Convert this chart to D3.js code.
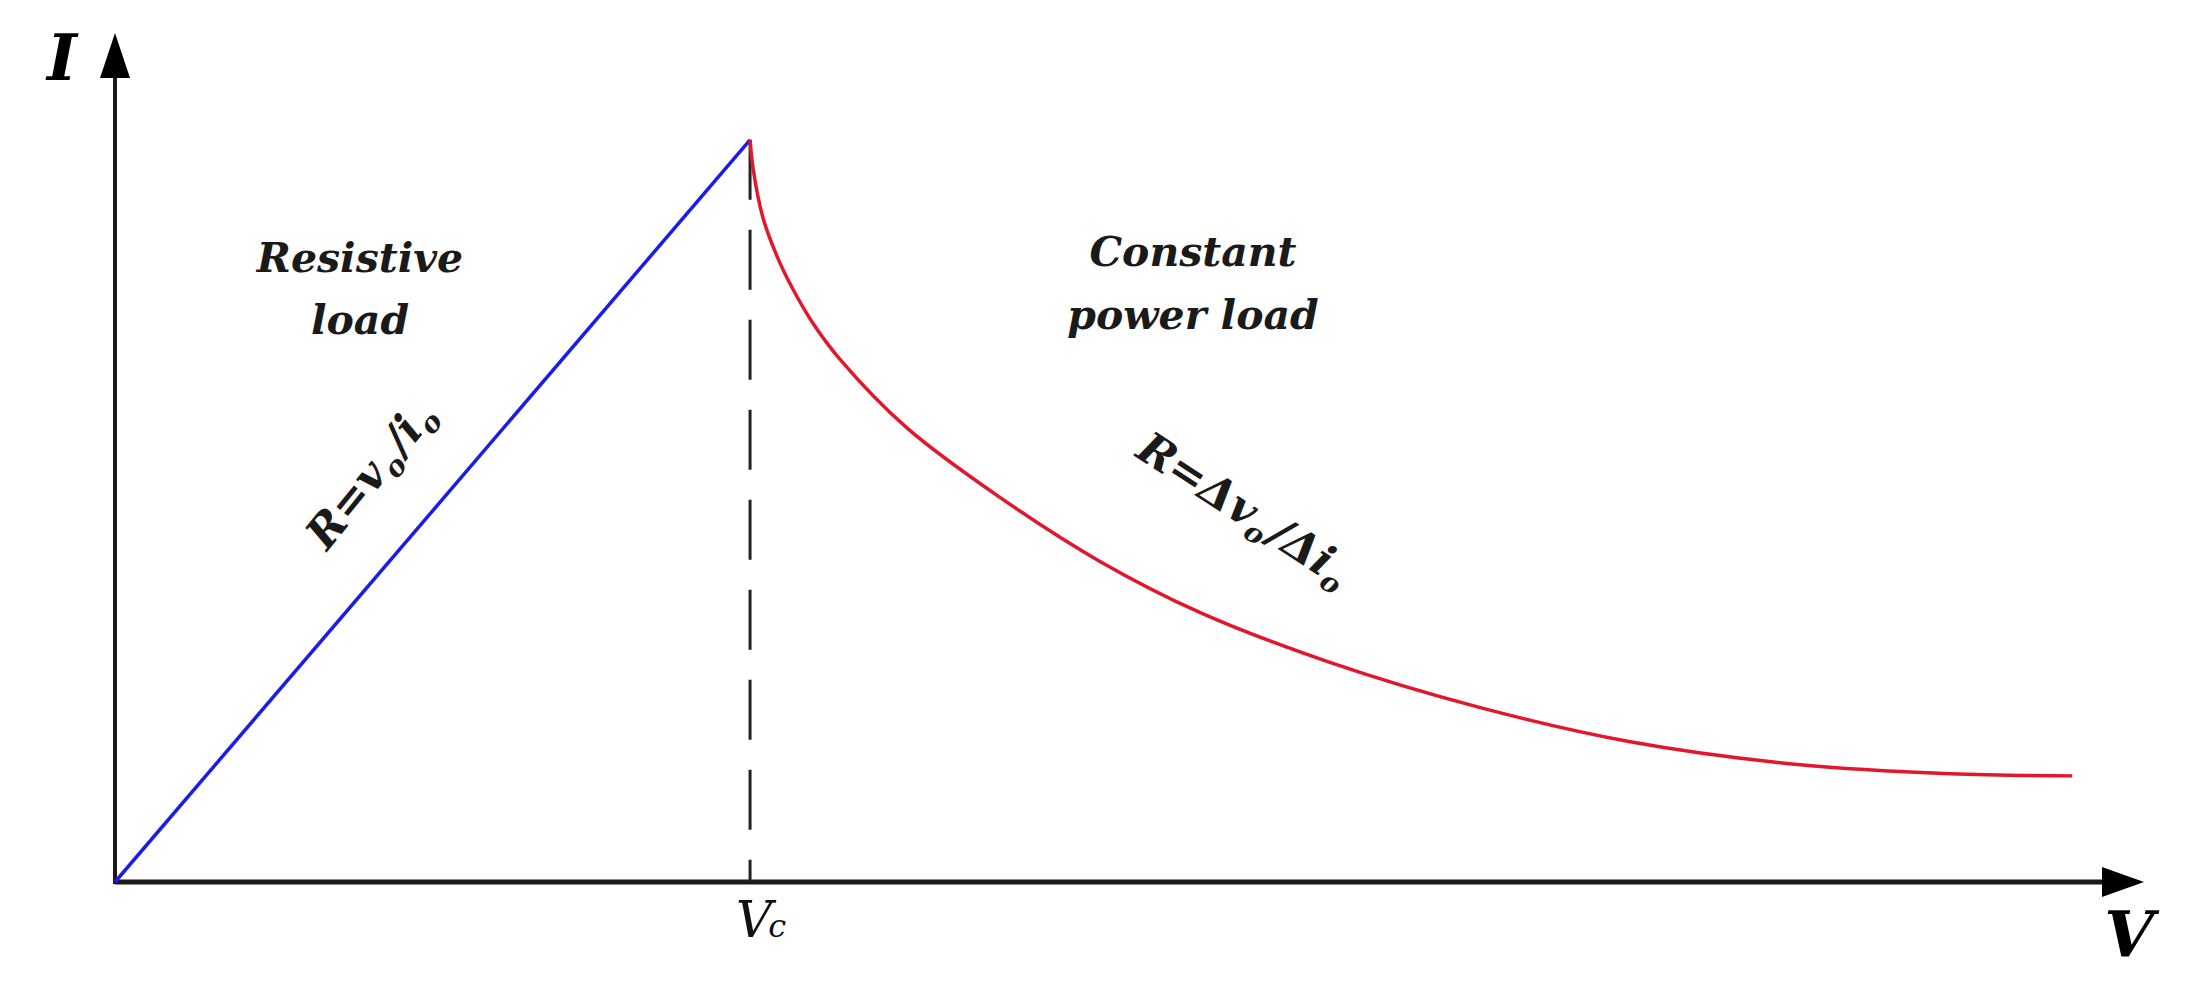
<!DOCTYPE html>
<html>
<head>
<meta charset="utf-8">
<script src="https://cdn.jsdelivr.net/npm/d3@7"></script>
<style>
  body { margin: 0; background: #fff; }
  text { font-family: "DejaVu Serif", "Liberation Serif", serif; }
</style>
</head>
<body>
<svg id="chart" width="2189" height="988"></svg>
<script>
// Values (V and I in units of the critical point)
const vcValue = 1;
const resistiveV = [0, 1];
const resistiveI = [0, 1];
const cplV = [1, 1.005, 1.02, 1.043, 1.068, 1.099, 1.142, 1.247, 1.394, 1.551, 1.709, 1.913, 2.15, 2.386, 2.654, 2.89, 3.082];
const cplI = [1, 0.96, 0.896, 0.842, 0.798, 0.753, 0.704, 0.612, 0.518, 0.432, 0.363, 0.296, 0.235, 0.189, 0.158, 0.146, 0.143];
const axisEnds = [3.195, 1.144];

// Scales
let x = d3.scaleLinear().domain([0, axisEnds[0]]).range([115, 2144]);
let y = d3.scaleLinear().domain([0, axisEnds[1]]).range([882, 33]);

let svg = d3.select("#chart");

// Axis lines
svg.append("line")
  .attr("x1", x(0)).attr("y1", y(0))
  .attr("x2", x(axisEnds[0]) - 30).attr("y2", y(0))
  .attr("stroke", "#1a1a1a").attr("stroke-width", 5);
svg.append("line")
  .attr("x1", x(0)).attr("y1", y(0) + 2)
  .attr("x2", x(0)).attr("y2", y(axisEnds[1]) + 30)
  .attr("stroke", "#1a1a1a").attr("stroke-width", 4);

// Arrow heads
svg.append("path")
  .attr("d", "M" + x(axisEnds[0]) + "," + y(0) +
    "L" + (x(axisEnds[0]) - 42) + "," + (y(0) - 15) +
    "L" + (x(axisEnds[0]) - 42) + "," + (y(0) + 15) + "Z")
  .attr("fill", "#000");
svg.append("path")
  .attr("d", "M" + x(0) + "," + y(axisEnds[1]) +
    "L" + (x(0) - 15) + "," + (y(axisEnds[1]) + 45) +
    "L" + (x(0) + 15) + "," + (y(axisEnds[1]) + 45) + "Z")
  .attr("fill", "#000");

// Dashed line at Vc
svg.append("line")
  .attr("x1", x(vcValue)).attr("y1", y(1))
  .attr("x2", x(vcValue)).attr("y2", y(0))
  .attr("stroke", "#222").attr("stroke-width", 3)
  .attr("stroke-dasharray", "60,30");

// Resistive load line
let line = d3.line()
  .x(d => x(d[0]))
  .y(d => y(d[1]));

svg.append("path")
  .datum(resistiveV.map((v, i) => [v, resistiveI[i]]))
  .attr("d", line)
  .attr("fill", "none")
  .attr("stroke", "#1c1ce8")
  .attr("stroke-width", 3.5);

// Constant power load curve
svg.append("path")
  .datum(cplV.map((v, i) => [v, cplI[i]]))
  .attr("d", line.curve(d3.curveCatmullRom.alpha(0.5)))
  .attr("fill", "none")
  .attr("stroke", "#e3172b")
  .attr("stroke-width", 3.5);

// Axis labels
svg.append("text")
  .attr("x", 62).attr("y", 80)
  .attr("text-anchor", "middle")
  .style("font-size", "64px").style("font-style", "italic").style("font-weight", "bold")
  .text("I");
svg.append("text")
  .attr("x", 2129).attr("y", 957)
  .attr("text-anchor", "middle")
  .style("font-size", "64px").style("font-style", "italic").style("font-weight", "bold")
  .text("V");

// Vc tick label
let vc = svg.append("text")
  .attr("x", x(vcValue) - 14).attr("y", 937)
  .style("font-size", "50px").style("font-style", "italic")
  .attr("fill", "#111");
vc.append("tspan").text("V");
vc.append("tspan").attr("dx", "-4").style("font-size", "32px").text("c");

// Region titles
function twoLines(cx, y1, y2, l1, l2) {
  let t = svg.append("text")
    .attr("text-anchor", "middle")
    .style("font-size", "41px").style("font-style", "italic").style("font-weight", "bold")
    .attr("fill", "#1a1a1a");
  t.append("tspan").attr("x", cx).attr("y", y1).text(l1);
  t.append("tspan").attr("x", cx).attr("y", y2).text(l2);
}
twoLines(360, 272, 334, "Resistive", "load");
twoLines(1193, 266, 329, "Constant", "power load");

// Slope annotations
function slopeLabel(tx, ty, angle, parts) {
  let t = svg.append("text")
    .attr("text-anchor", "middle")
    .attr("transform", "translate(" + tx + "," + ty + ") rotate(" + angle + ")")
    .style("font-size", "44px").style("font-weight", "bold").style("font-style", "italic")
    .attr("fill", "#1a1a1a");
  t.append("tspan").text(parts[0]);
  t.append("tspan").attr("dy", 9).attr("dx", 1).style("font-size", "28px").text("o");
  t.append("tspan").attr("dy", -9).attr("dx", 4).text(parts[1]);
  t.append("tspan").attr("dy", 9).attr("dx", 1).style("font-size", "28px").text("o");
}
slopeLabel(382, 484, -51, ["R=v", "/i"]);
slopeLabel(1236, 522, 33, ["R=\u0394v", "/\u0394i"]);
</script>
</body>
</html>
